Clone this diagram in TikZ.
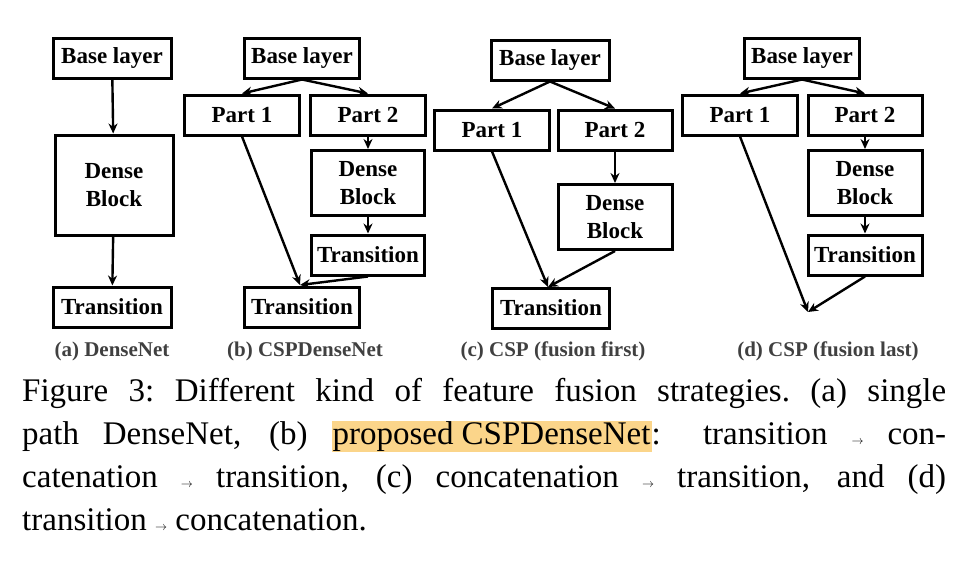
\documentclass[tikz,border=0pt]{standalone}
\usepackage{fontspec}
\setmainfont{Liberation Serif}
\usetikzlibrary{arrows.meta}
\definecolor{hl}{HTML}{FBD58A}
\begin{document}
\begin{tikzpicture}[x=1pt,y=-1pt,
  bx/.style={draw,line width=3pt,inner sep=0pt,font=\fontsize{23}{24}\selectfont\bfseries,align=center},
  ar/.style={line width=2.4pt,-{Stealth[length=10pt,width=9pt]}},
  lab/.style={font=\fontsize{21}{22}\selectfont\bfseries,text=black!75}]
\useasboundingbox (0,0) rectangle (968,574);
% (a)
\node[bx,minimum width=118,minimum height=40] (a1) at (112,58) {Base layer};
\node[bx,minimum width=118,minimum height=100] (a2) at (114,185) {Dense\\[4pt]Block};
\node[bx,minimum width=118,minimum height=40] (a3) at (112,307) {Transition};
\draw[ar] (a1) -- (a2);
\draw[ar] (a2) -- (a3);
\node[lab] (la) at (112,351) {(a) DenseNet};
% (b)
\node[bx,minimum width=115,minimum height=40] (b1) at (302,58) {Base layer};
\node[bx,minimum width=115,minimum height=40] (b2) at (242,115) {Part 1};
\node[bx,minimum width=115,minimum height=40] (b3) at (368,115) {Part 2};
\node[bx,minimum width=113,minimum height=65] (b4) at (368,183) {Dense\\[4pt]Block};
\node[bx,minimum width=113,minimum height=40] (b5) at (368,255) {Transition};
\node[bx,minimum width=115,minimum height=40] (b6) at (302,307) {Transition};
\draw[ar] (b1.south) -- (b2.north);
\draw[ar] (b1.south) -- (b3.north);
\draw[ar] (b3) -- (b4);
\draw[ar] (b4) -- (b5);
\draw[ar] (b2.south) -- (300,285);
\draw[ar] (b5.south) -- (300,285);
\node[lab] (lb) at (305,351) {(b) CSPDenseNet};
% (c)
\node[bx,minimum width=118,minimum height=40] (c1) at (550,60) {Base layer};
\node[bx,minimum width=115,minimum height=40] (c2) at (492,130) {Part 1};
\node[bx,minimum width=114,minimum height=40] (c3) at (615,130) {Part 2};
\node[bx,minimum width=114,minimum height=65] (c4) at (615,217) {Dense\\[4pt]Block};
\node[bx,minimum width=117,minimum height=40] (c5) at (551,308) {Transition};
\draw[ar] (c1.south) -- (c2.north);
\draw[ar] (c1.south) -- (c3.north);
\draw[ar] (c3) -- (c4);
\draw[ar] (c2.south) -- (548,287);
\draw[ar] (c4.south) -- (548,287);
\node[lab] (lc) at (553,351) {(c) CSP (fusion first)};
% (d)
\node[bx,minimum width=115,minimum height=40] (d1) at (802,58) {Base layer};
\node[bx,minimum width=115,minimum height=40] (d2) at (740,115) {Part 1};
\node[bx,minimum width=114,minimum height=40] (d3) at (865,115) {Part 2};
\node[bx,minimum width=114,minimum height=65] (d4) at (865,183) {Dense\\[4pt]Block};
\node[bx,minimum width=114,minimum height=40] (d5) at (865,255) {Transition};
\coordinate (dm) at (808,312);
\draw[ar] (d1.south) -- (d2.north);
\draw[ar] (d1.south) -- (d3.north);
\draw[ar] (d3) -- (d4);
\draw[ar] (d4) -- (d5);
\draw[ar] (d2.south) -- (dm);
\draw[ar] (d5.south) -- (dm);
\node[lab] (ld) at (828,351) {(d) CSP (fusion last)};
% caption
\node[anchor=north west,inner sep=0pt,text width=924,align=justify,
  font=\fontsize{33}{43}\selectfont] (cap) at (22,378)
 {Figure 3:\ Different kind of feature fusion strategies.\ (a) single\linebreak
 path DenseNet, (b) {\setlength{\fboxsep}{1pt}\colorbox{hl}{proposed CSPDenseNet}}: transition {\large$\rightarrow$} con-\linebreak
 catenation {\large$\rightarrow$} transition, (c) concatenation {\large$\rightarrow$} transition, and (d)\linebreak
 transition {\large$\rightarrow$} concatenation.};
\end{tikzpicture}
\end{document}
